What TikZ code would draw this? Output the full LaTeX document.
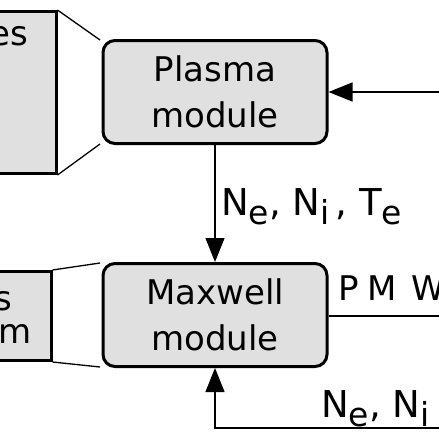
\documentclass[tikz,border=0pt]{standalone}
\usepackage{fontspec}
\setmainfont{DejaVu Sans}
\usetikzlibrary{arrows.meta}
\definecolor{boxgray}{RGB}{224,224,224}
\newcommand{\sub}[1]{\raisebox{-9pt}{\fontsize{33}{33}\selectfont #1}}
\begin{document}
\begin{tikzpicture}[x=1pt,y=-1pt,
  modbox/.style={draw,line width=3pt,fill=boxgray,rounded corners=12pt,
    minimum width=224pt,minimum height=103pt,inner sep=0pt,align=center,
    font=\fontsize{34}{46}\selectfont},
  sidebox/.style={draw,line width=3pt,fill=boxgray,inner sep=0pt},
  thin/.style={line width=1.3pt},
  arr/.style={line width=1.3pt,-{Triangle[length=24pt,width=19pt]}},
  lbl/.style={inner sep=0pt,font=\fontsize{37}{37}\selectfont},
  sidetxt/.style={inner sep=0pt,font=\fontsize{34}{34}\selectfont}]
\useasboundingbox (0,0) rectangle (439,439);
\clip (0,0) rectangle (439,439);
% side boxes
\node[sidebox,minimum width=90pt,minimum height=162pt] (res) at (11,92.5) {};
\node[sidebox,minimum width=90pt,minimum height=89pt] (spec) at (6,316) {};
\node[sidetxt,anchor=base east] (rest) at (28,45) {es};
\node[sidetxt,anchor=base east] (spt1) at (12,310) {s};
\node[sidetxt,anchor=base east] (spt2) at (32,343) {um};
% modules
\node[modbox] (plasma) at (215,92) {Plasma\\module};
\node[modbox] (maxwell) at (215,315) {Maxwell\\module};
% zoom lines
\coordinate (pt1) at (100,40);
\coordinate (pt2) at (100,144);
\coordinate (mt1) at (100,263);
\coordinate (mt2) at (100,367);
\draw[thin] (res.north east) -- (pt1);
\draw[thin] (res.south east) -- (pt2);
\draw[thin] (spec.north east) -- (mt1);
\draw[thin] (spec.south east) -- (mt2);
% connectors
\coordinate (rin) at (445,92);
\coordinate (rout) at (445,316);
\coordinate (bin) at (445,428);
\draw[arr] (plasma.south) -- (maxwell.north);
\draw[arr] (rin) -- (plasma.east);
\draw[thin] (maxwell.east |- rout) -- (rout);
\draw[arr] (bin) -| (maxwell.south);
% labels
\node[lbl,anchor=base west] (l1) at (221,215) {N\sub{e}, N\sub{i}\,, T\sub{e}};
\node[lbl,anchor=base west] (l2) at (321,417) {N\sub{e}, N\sub{i}};
\node[sidetxt,anchor=base west] (l3) at (338,300) {P\hspace{9pt}M\hspace{14pt}W};
\end{tikzpicture}
\end{document}
